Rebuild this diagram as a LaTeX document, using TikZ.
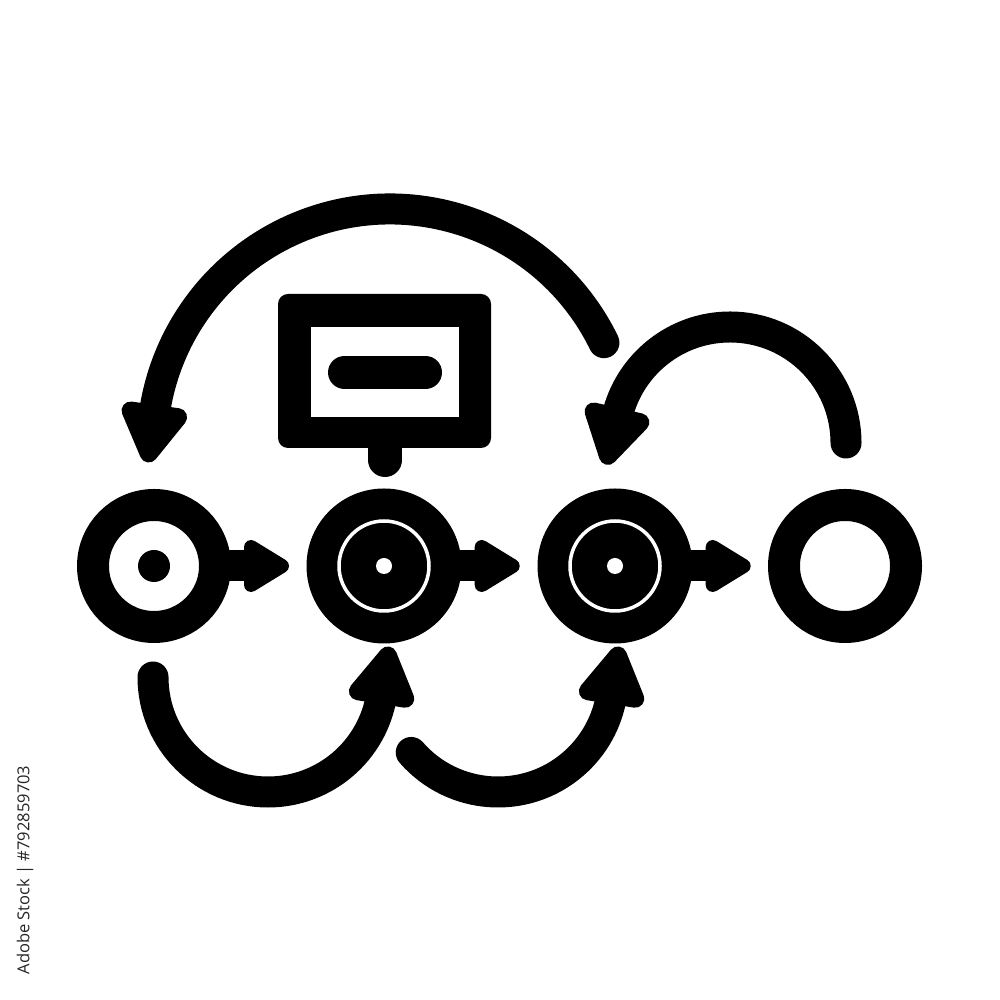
\documentclass[tikz,border=0pt]{standalone}
\usepackage{fontspec}
\setsansfont{Open Sans}
\usetikzlibrary{calc}
\begin{document}
\begin{tikzpicture}[x=1pt,y=1pt,
  ring/.style={circle, draw=black, fill=white, line width=32pt, minimum size=122pt, inner sep=0pt},
  disc/.style={circle, fill=black, minimum size=155pt, inner sep=0pt},
  flow/.style={line width=31pt, line cap=round},
  shaft/.style={line width=31pt},
  ahead/.pic={\filldraw[line width=18pt, line join=round] (0,-24) -- (40,0) -- (0,24) -- cycle;},
  shead/.pic={\filldraw[line width=14pt, line join=round] (5,-19) -- (36,0) -- (5,19) -- cycle;}
]
\fill[white] (0,0) rectangle (1000,1000);
\useasboundingbox (0,0) rectangle (1000,1000);

% state circles
\node[ring] (s1) at (154,434) {};
\fill (s1.center) circle[radius=16pt];
\node[disc] (s2) at (384,434) {};
\node[disc] (s3) at (615,434) {};
\node[ring] (s4) at (845,434) {};
\foreach \s in {s2,s3}{
  \draw[white, line width=3.5pt] (\s.center) circle[radius=45pt];
  \fill[white] (\s.center) circle[radius=8pt];
}

% short arrows between circles
\draw[shaft] ([xshift=-5pt]s1.east) -- ++(20,0) coordinate (h1);
\pic at (h1) {shead};
\draw[shaft] ([xshift=-5pt]s2.east) -- ++(20,0) coordinate (h2);
\pic at (h2) {shead};
\draw[shaft] ([xshift=-5pt]s3.east) -- ++(20,0) coordinate (h3);
\pic at (h3) {shead};

% sign box above second circle
\fill[rounded corners=10pt] (278,552) rectangle (491,706);
\fill[white] (311,583) rectangle (459,673);
\draw[line width=33pt, line cap=round] (344.5,627.5) coordinate (pl) -- (425.5,627.5) coordinate (pr);
\coordinate (stemtop) at (385,560);
\draw[line width=34pt, line cap=round] (stemtop) -- ++(0,-20);

% big arc (top left)
\coordinate (cbig) at (390,553);
\draw[flow] ($(cbig)+(26:238pt)$) arc[start angle=26, end angle=172, radius=238pt];
\pic[rotate=262] at ($(cbig)+(172:238pt)$) {ahead};

% small arc (top right)
\coordinate (csm) at (730,557);
\draw[flow] ($(csm)+(0:116pt)$) arc[start angle=0, end angle=167, radius=116pt];
\pic[rotate=257] at ($(csm)+(167:116pt)$) {ahead};

% bottom arcs
\coordinate (cA) at (268,323);
\draw[flow] ($(cA)+(180:115pt)$) arc[start angle=180, end angle=351, radius=115pt];
\pic[rotate=81] at ($(cA)+(351:115pt)$) {ahead};
\coordinate (cB) at (498,323);
\draw[flow] ($(cB)+(221:115pt)$) arc[start angle=221, end angle=351, radius=115pt];
\pic[rotate=81] at ($(cB)+(351:115pt)$) {ahead};

% stock label
\node[rotate=90, font=\sffamily\fontsize{16.5}{16.5}\selectfont, text=black!85, inner sep=0pt] (wm) at (25,130) {Adobe Stock | \#792859703};
\end{tikzpicture}
\end{document}
